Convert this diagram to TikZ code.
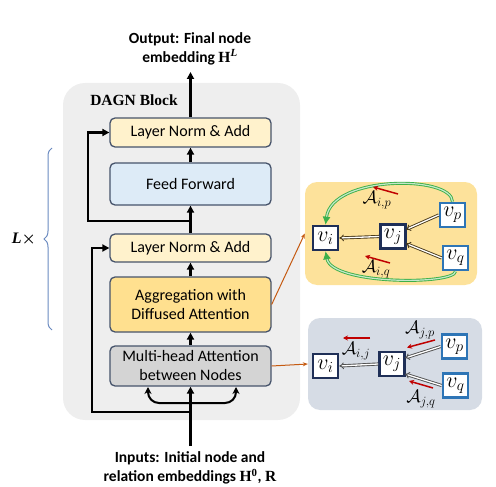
\RequirePackage{fix-cm}
\documentclass[tikz,border=0pt]{standalone}
\usepackage{amsmath,amssymb,bm}
\usepackage{fontspec}
\setmainfont{Carlito}
\newfontfamily\timesfont{Liberation Serif}
\usetikzlibrary{arrows.meta,decorations.pathreplacing}
\definecolor{bord}{HTML}{46536B}
\definecolor{lnfill}{HTML}{FFF2CC}
\definecolor{fffill}{HTML}{DDEBF7}
\definecolor{aggfill}{HTML}{FFE08F}
\definecolor{mhafill}{HTML}{D4D4D4}
\definecolor{blockbg}{HTML}{EEEEEE}
\definecolor{ypanel}{HTML}{FDE29B}
\definecolor{gpanel}{HTML}{D6DCE5}
\definecolor{navy}{HTML}{1F2F57}
\definecolor{vblue}{HTML}{2E75B6}
\definecolor{gline}{HTML}{3CB04A}
\definecolor{redarr}{HTML}{C00000}
\definecolor{orng}{HTML}{C55A11}
\definecolor{bracecol}{HTML}{6A8AC0}
\definecolor{brownl}{HTML}{4A3A1A}
\definecolor{greyl}{HTML}{505050}
\tikzset{
  blk/.style={draw=bord, line width=1.3pt, rounded corners=5pt, minimum width=161pt,
    inner sep=0pt, align=center, font=\fontsize{16}{19}\selectfont},
  arr/.style={line width=2.2pt, -{Triangle[length=7pt,width=7pt]}},
  lbl/.style={align=center, font=\fontsize{15.5}{19}\selectfont\bfseries},
  vnode/.style={draw=navy, line width=2.6pt, fill=white, minimum width=25pt, minimum height=24pt,
    inner sep=0pt, font=\fontsize{22}{22}\selectfont},
  vnodeb/.style={vnode, draw=vblue},
  dedge/.style={draw=brownl, line width=0.9pt, double=white, double distance=1.3pt, -{Implies}},
  gedge/.style={draw=greyl, line width=0.9pt, double=white, double distance=1.3pt, -{Implies}},
  gcurve/.style={draw=gline, line width=0.9pt, double=white!70!gline, double distance=1.2pt,
    -{Latex[length=8pt,width=8pt]}},
  rarr/.style={draw=redarr, line width=1.5pt, -{Stealth[length=5pt,width=5pt]}},
  oarr/.style={draw=orng, line width=1pt, -{Stealth[length=5pt,width=4pt]}},
  alab/.style={inner sep=0pt, font=\fontsize{18}{18}\selectfont},
}
\begin{document}
\begin{tikzpicture}[x=1pt,y=-1pt]
\useasboundingbox (0,0) rectangle (496,487);
% DAGN block background
\fill[blockbg, rounded corners=22pt] (63,83) rectangle (300,420);
\node[font=\fontsize{15.5}{18}\selectfont\timesfont\bfseries] (dagn) at (134,100) {DAGN Block};

% blocks
\node[blk, fill=lnfill, minimum height=29pt] (LN1) at (190.5,132.5) {Layer Norm \& Add};
\node[blk, fill=fffill, minimum height=42pt] (FF) at (190.5,184) {Feed Forward};
\node[blk, fill=lnfill, minimum height=28pt] (LN2) at (190.5,248) {Layer Norm \& Add};
\node[blk, fill=aggfill, minimum height=55pt] (AGG) at (190.5,304.5) {Aggregation with\\Diffused Attention};
\node[blk, fill=mhafill, minimum height=40pt] (MHA) at (190.5,366) {Multi-head Attention\\between Nodes};

% output / input labels
\node[lbl] (out) at (190,49) {Output: Final node\\embedding {\timesfont\bfseries H}\textsuperscript{\timesfont\bfseries\itshape L}};
\node[lbl] (inp) at (190,468) {Inputs: Initial node and\\relation embeddings {\timesfont\bfseries H}\textsuperscript{\timesfont\bfseries 0}, {\timesfont\bfseries R}};
\coordinate (otop) at (190.5,72);
\coordinate (ibot) at (190.5,446);

% main arrows
\draw[arr] (LN1.north) -- (otop);
\draw[arr] (FF.north) -- (LN1.south);
\draw[arr] (LN2.north) -- (FF.south);
\draw[arr] (AGG.north) -- (LN2.south);
\draw[arr] (MHA.north) -- (AGG.south);
\draw[arr] (ibot) -- (MHA.south);

% residual paths
\coordinate (j1) at (190.5,221);
\coordinate (k1) at (88,221);
\draw[arr] (j1) -- (k1) |- (LN1.west);
\coordinate (j2) at (190.5,412);
\coordinate (k2) at (92,412);
\draw[arr] (j2) -- (k2) |- (LN2.west);

% split arrows into MHA
\coordinate (sl) at (148,387);
\coordinate (sm) at (192,403);
\coordinate (sr) at (236,387);
\draw[line width=2pt, {Stealth[length=7pt,width=7pt]}-{Stealth[length=7pt,width=7pt]}, rounded corners=11pt]
  (sl) |- (sm) -| (sr);

% brace
\draw[bracecol, line width=1pt, decorate, decoration={brace, amplitude=8pt}] (52,330) -- (52,148);
\node[font=\fontsize{16}{16}\selectfont] (Lx) at (24,239) {{\timesfont\bfseries\itshape L}$\boldsymbol{\times}$};

% panels
\node[fill=ypanel, rounded corners=12pt, minimum width=172pt, minimum height=103pt, inner sep=0pt] (yp) at (391,233.5) {};
\node[fill=gpanel, rounded corners=12pt, minimum width=174pt, minimum height=92pt, inner sep=0pt] (gp) at (395,364) {};
\draw[oarr] (AGG.east) -- (yp.west);
\draw[oarr] (MHA.east) -- (gp.west);

% top panel graph
\node[vnode] (vi) at (325.5,238) {$v_i$};
\node[vnode] (vj) at (393,236.5) {$v_j$};
\node[vnodeb] (vp) at (452.5,215) {$v_p$};
\node[vnodeb] (vq) at (455.5,258) {$v_q$};
\draw[dedge] (vj.west) -- (vi.east);
\coordinate (vjt) at (406,229.5);
\coordinate (vjb) at (406,243.5);
\draw[dedge] (vp.west) -- (vjt);
\draw[dedge] (vq.west) -- (vjb);
\draw[gcurve] (vp.north) .. controls (452,175) and (332,175) .. (vi.north);
\draw[gcurve] (vq.south) .. controls (455,285) and (332,285) .. (vi.south);
\node[alab] (aip) at (377,200) {$\mathcal{A}_{i,p}$};
\node[alab] (aiq) at (376,269) {$\mathcal{A}_{i,q}$};
\coordinate (r1s) at (398,194); \coordinate (r1e) at (373,187);
\coordinate (r2s) at (390,263); \coordinate (r2e) at (365,256);
\draw[rarr] (r1s) -- (r1e);
\draw[rarr] (r2s) -- (r2e);

% bottom panel graph
\node[vnode] (wi) at (325.5,366) {$v_i$};
\node[vnode] (wj) at (392,364) {$v_j$};
\node[vnodeb] (wp) at (454.5,346.5) {$v_p$};
\node[vnodeb] (wq) at (455.5,385.5) {$v_q$};
\draw[gedge] (wj.west) -- (wi.east);
\coordinate (wjt) at (405,358);
\coordinate (wjb) at (405,374);
\draw[gedge] (wp.west) -- (wjt);
\draw[gedge] (wq.west) -- (wjb);
\node[alab] (aij) at (356,351) {$\mathcal{A}_{i,j}$};
\node[alab] (ajp) at (420,330) {$\mathcal{A}_{j,p}$};
\node[alab] (ajq) at (421,399) {$\mathcal{A}_{j,q}$};
\coordinate (r3s) at (370,338); \coordinate (r3e) at (343,338);
\coordinate (r4s) at (435,340); \coordinate (r4e) at (407,347.5);
\coordinate (r5s) at (433,388); \coordinate (r5e) at (409,381);
\draw[rarr] (r3s) -- (r3e);
\draw[rarr] (r4s) -- (r4e);
\draw[rarr] (r5s) -- (r5e);
\end{tikzpicture}
\end{document}
